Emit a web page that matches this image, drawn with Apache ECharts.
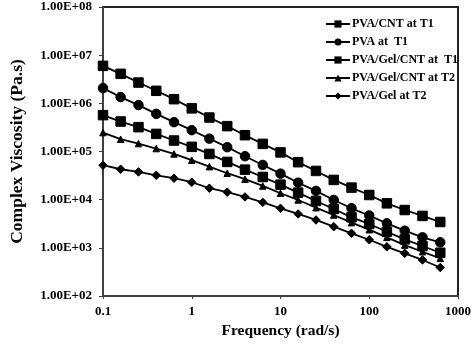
<!DOCTYPE html>
<html>
<head>
<meta charset="utf-8">
<script src="https://cdn.jsdelivr.net/npm/echarts@6/dist/echarts.min.js"></script>
<style>
html,body{margin:0;padding:0;background:#fff;}
#chart{width:474px;height:345px;}
</style>
</head>
<body>
<div id="chart"></div>
<script>
var frequency = [0.1, 0.158, 0.251, 0.398, 0.631, 1, 1.58, 2.51, 3.98, 6.31, 10, 15.8, 25.1, 39.8, 63.1, 100, 158, 251, 398, 631];
var seriesNames = ['PVA/CNT at T1', 'PVA at  T1', 'PVA/Gel/CNT at  T1', 'PVA/Gel/CNT at T2', 'PVA/Gel at T2'];
var pvaCntT1 = [6.0e6, 4.1e6, 2.7e6, 1.82e6, 1.22e6, 7.87e5, 5.07e5, 3.36e5, 2.18e5, 1.44e5, 9.58e4, 6.0e4, 3.95e4, 2.57e4, 1.78e4, 1.25e4, 8.4e3, 6.1e3, 4.6e3, 3.44e3];
var pvaT1 = [2.07e6, 1.35e6, 9.2e5, 6.05e5, 4.07e5, 2.77e5, 1.85e5, 1.23e5, 7.98e4, 5.26e4, 3.47e4, 2.25e4, 1.52e4, 9.86e3, 6.62e3, 4.7e3, 3.23e3, 2.27e3, 1.65e3, 1.3e3];
var pvaGelCntT1 = [5.69e5, 4.19e5, 3.2e5, 2.32e5, 1.69e5, 1.25e5, 8.9e4, 6.08e4, 4.2e4, 2.96e4, 2.05e4, 1.4e4, 9.4e3, 6.4e3, 4.3e3, 3.13e3, 2.16e3, 1.5e3, 1.09e3, 7.9e2];
var pvaGelCntT2 = [2.47e5, 1.8e5, 1.46e5, 1.15e5, 8.9e4, 6.6e4, 4.85e4, 3.54e4, 2.66e4, 1.93e4, 1.36e4, 9.86e3, 6.82e3, 4.81e3, 3.33e3, 2.38e3, 1.65e3, 1.14e3, 8.3e2, 6.05e2];
var pvaGelT2 = [5.19e4, 4.28e4, 3.77e4, 3.21e4, 2.79e4, 2.3e4, 1.73e4, 1.43e4, 1.14e4, 8.8e3, 6.6e3, 5.05e3, 3.79e3, 2.75e3, 2.0e3, 1.47e3, 1.05e3, 7.7e2, 5.6e2, 3.9e2];
var xTickLabels = ['0.1', '1', '10', '100', '1000'];
var yTickLabels = ['1.00E+02', '1.00E+03', '1.00E+04', '1.00E+05', '1.00E+06', '1.00E+07', '1.00E+08'];

var allValues = [pvaCntT1, pvaT1, pvaGelCntT1, pvaGelCntT2, pvaGelT2];
var symbols = ['rect', 'circle', 'rect', 'triangle', 'diamond'];
var symbolSizes = [9.5, 9.5, 9.5, 6.5, 8.5];

var font = '"Liberation Serif", "Times New Roman", serif';
var chart = echarts.init(document.getElementById('chart'));

var series = allValues.map(function (vals, i) {
  return {
    name: seriesNames[i],
    type: 'line',
    data: frequency.map(function (f, j) { return [f, vals[j]]; }),
    symbol: symbols[i],
    symbolSize: symbolSizes[i],
    showAllSymbol: true,
    lineStyle: { color: '#000', width: 1.8 },
    itemStyle: { color: '#000', borderColor: '#000' },
    animation: false
  };
});

chart.setOption({
  animation: false,
  backgroundColor: '#fff',
  grid: {
    left: 103, right: 13, top: 7, bottom: 49,
    show: true, borderColor: '#222', borderWidth: 2, backgroundColor: 'transparent'
  },
  legend: {
    orient: 'vertical',
    left: 320,
    top: 13,
    itemWidth: 24,
    itemHeight: 9,
    itemGap: 6,
    data: seriesNames,
    textStyle: { fontFamily: font, fontWeight: 'bold', fontSize: 12, color: '#000', padding: [0, 0, 0, -3] }
  },
  xAxis: {
    type: 'log',
    logBase: 10,
    min: 0.1,
    max: 1000,
    name: 'Frequency (rad/s)',
    nameLocation: 'middle',
    nameGap: 27,
    nameTextStyle: { fontFamily: font, fontWeight: 'bold', fontSize: 15.5, color: '#000' },
    axisLine: { show: true, onZero: false, lineStyle: { color: '#404040', width: 2 } },
    axisTick: { show: true, length: 3, lineStyle: { color: '#404040' } },
    minorTick: { show: false },
    splitLine: { show: false },
    axisLabel: {
      fontFamily: font, fontWeight: 'bold', fontSize: 13, color: '#000', margin: 9,
      formatter: function (v) {
        var e = Math.round(Math.log10(v)) + 1;
        return xTickLabels[e] || '';
      }
    }
  },
  yAxis: {
    type: 'log',
    logBase: 10,
    min: 100,
    max: 1e8,
    name: 'Complex Viscosity (Pa.s)',
    nameLocation: 'middle',
    nameGap: 77,
    nameRotate: 90,
    nameTextStyle: { fontFamily: font, fontWeight: 'bold', fontSize: 17.5, color: '#000' },
    axisLine: { show: true, onZero: false, lineStyle: { color: '#404040', width: 2 } },
    axisTick: { show: true, length: 4, lineStyle: { color: '#404040' } },
    splitLine: { show: false },
    axisLabel: {
      fontFamily: font, fontWeight: 'bold', fontSize: 13, color: '#000', margin: 11,
      formatter: function (v) {
        var e = Math.round(Math.log10(v)) - 2;
        return yTickLabels[e] || '';
      }
    }
  },
  series: series
});
</script>
</body>
</html>
